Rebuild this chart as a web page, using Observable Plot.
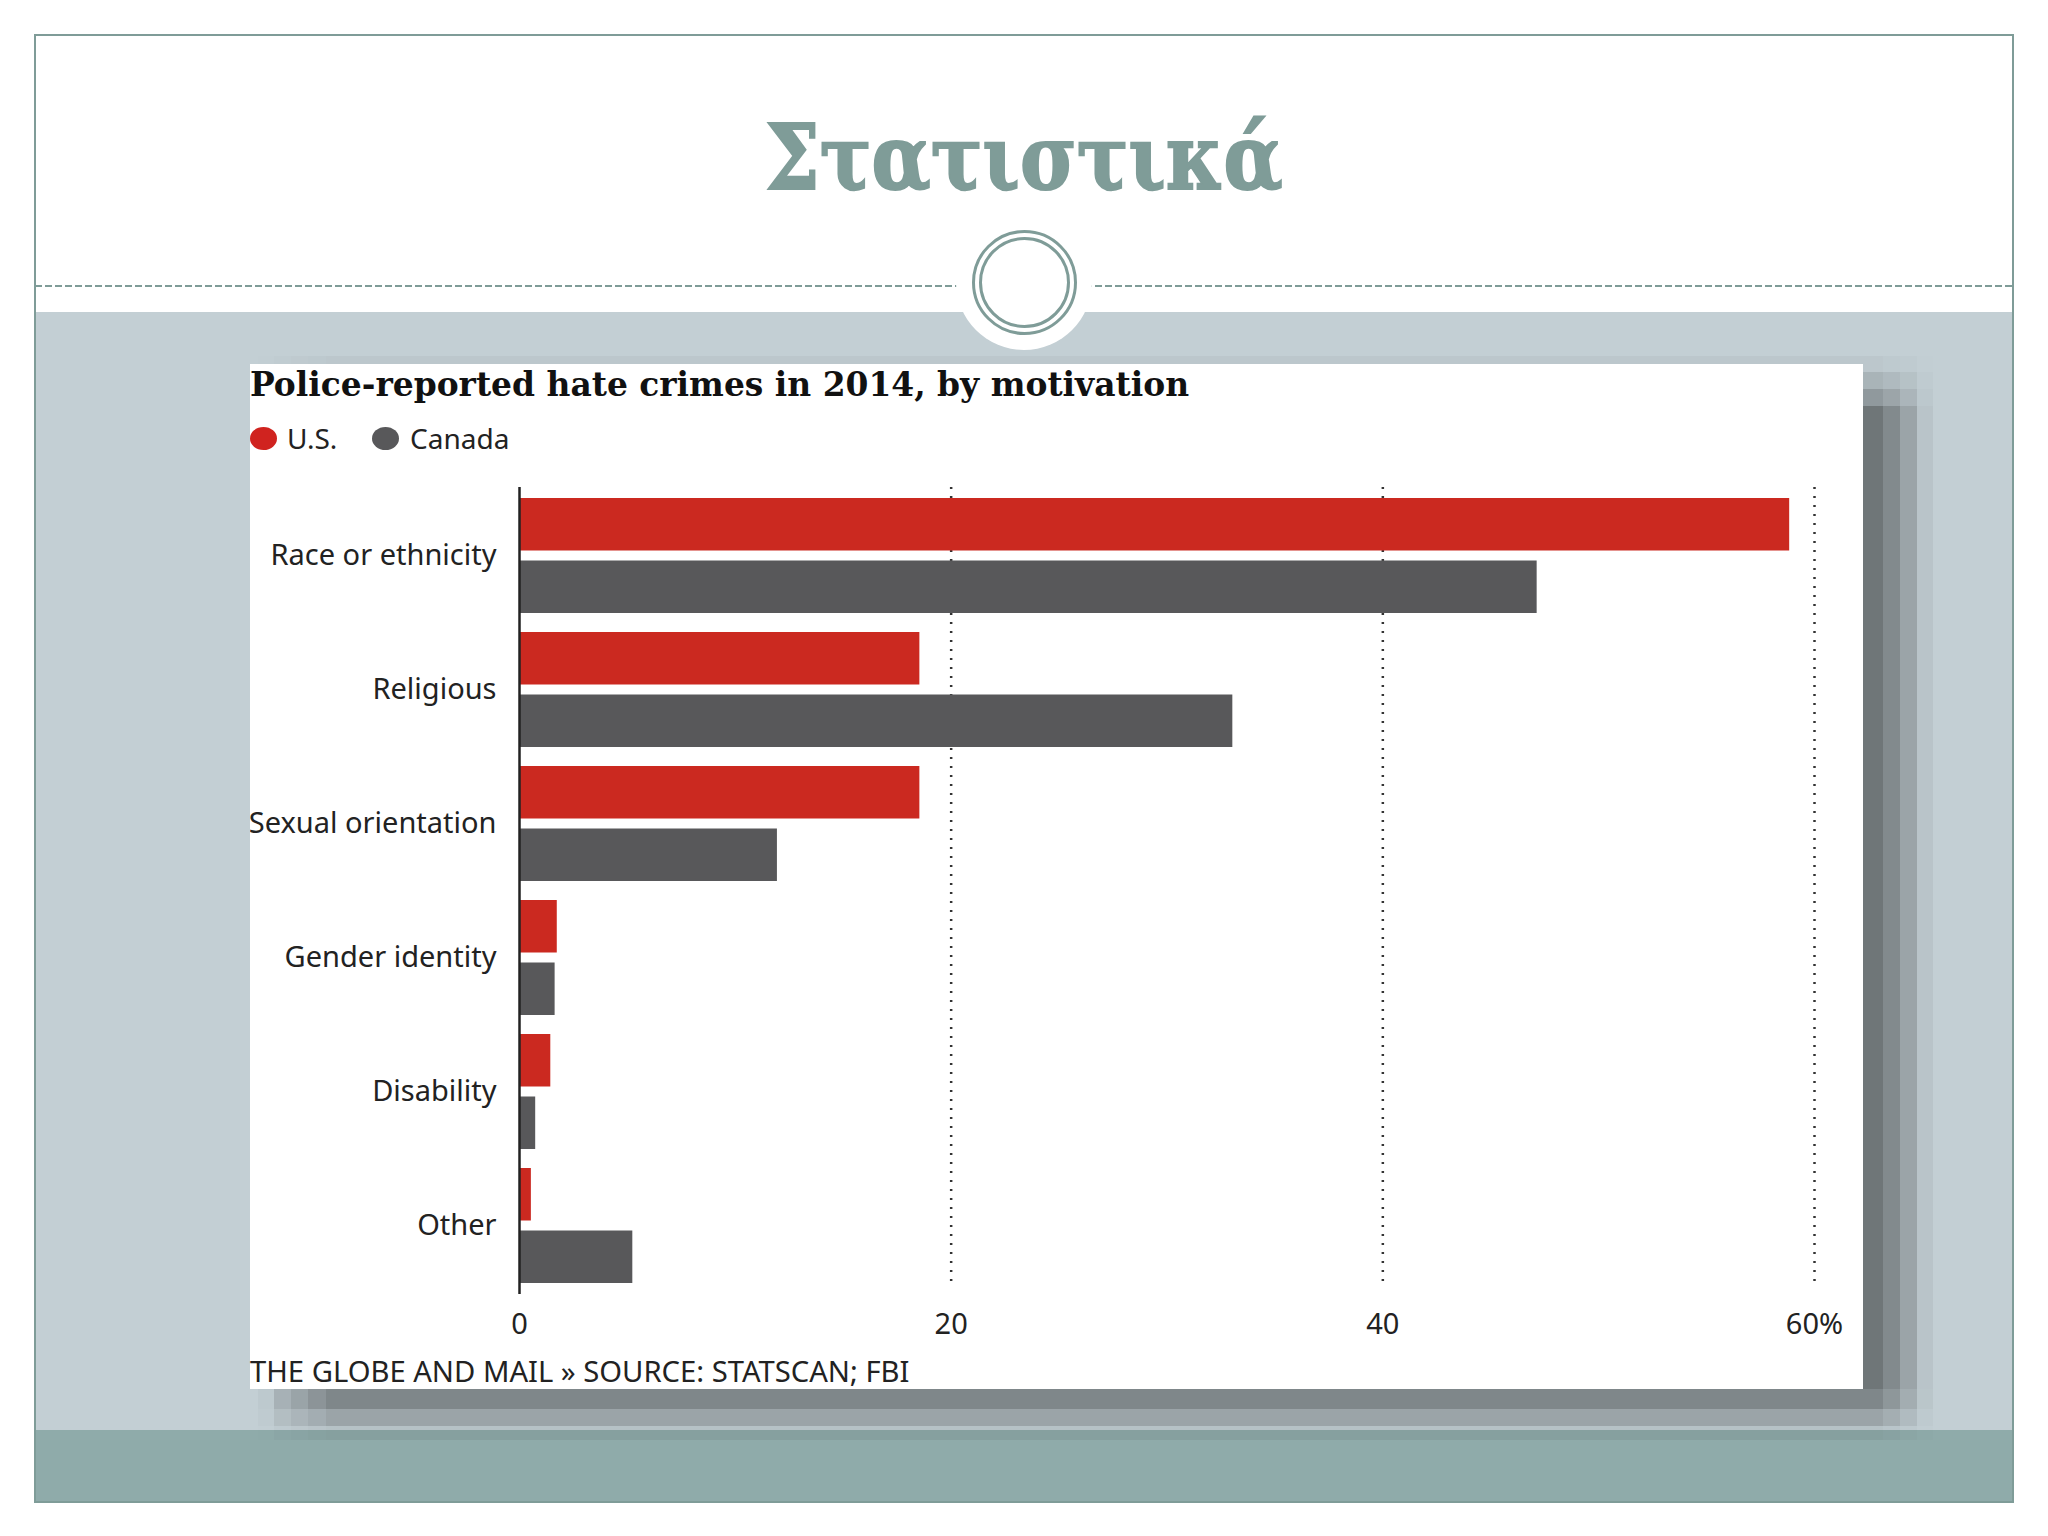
<!DOCTYPE html>
<html lang="en">
<head>
<meta charset="utf-8">
<title>Στατιστικά</title>
<script src="https://cdn.jsdelivr.net/npm/d3@7"></script>
<script src="https://cdn.jsdelivr.net/npm/@observablehq/plot@0.6"></script>
<style>
  html, body { margin: 0; padding: 0; background: #fff; width: 2048px; height: 1536px; overflow: hidden; }
  .abs { position: absolute; box-sizing: border-box; }
  #frame { left: 34px; top: 34px; width: 1980px; height: 1469px; border: 2px solid #7f9c98; }
  #panel { left: 35px; top: 312px; width: 1978px; height: 1118px; background: #c3cfd4; }
  #footer { left: 35px; top: 1430px; width: 1978px; height: 72px; background: #8fabaa; }
  #dash { left: 35px; top: 285px; width: 1978px; height: 2px;
    background: repeating-linear-gradient(90deg, #7f9c98 0 7px, transparent 7px 10px); }
  .disc { border-radius: 50%; }
  #title { left: 0; top: 98px; width: 2048px; text-align: center; font: bold 89px "DejaVu Serif", serif; color: #7f9c98;
    line-height: 120px; transform: scaleX(.865); -webkit-text-stroke: 2px #7f9c98; }
  #heading { left: 250px; top: 365px; font: bold 32.9px "DejaVu Serif", serif; color: #111; line-height: 40px; white-space: nowrap; }
  .legend { top: 419px; font: 28px "Noto Sans", sans-serif; color: #222; line-height: 38px; white-space: nowrap; }
  .dot { width: 27px; height: 23px; border-radius: 50%; top: 427px; }
  #source { left: 250px; top: 1352px; font: 29.2px "Noto Sans", sans-serif; color: #222; line-height: 38px; white-space: nowrap; }
  #chart { left: 250px; top: 364px; }
  #chart svg { display: block; }
  #shadow { left: 258px; top: 356px; width: 1675px; height: 1084px; background: rgba(0,0,0,.43);
    --mx: linear-gradient(90deg,
      rgba(0,0,0,.08) 0 16px, rgba(0,0,0,.4) 16px 33px, rgba(0,0,0,.6) 33px 50px, rgba(0,0,0,.8) 50px 68px,
      #000 68px 1625px, rgba(0,0,0,.77) 1625px 1642px, rgba(0,0,0,.47) 1642px 1659px, rgba(0,0,0,.12) 1659px 1675px);
    --my: linear-gradient(180deg,
      rgba(0,0,0,.08) 0 16px, rgba(0,0,0,.3) 16px 33px, rgba(0,0,0,.6) 33px 50px,
      #000 50px 1033px, rgba(0,0,0,.81) 1033px 1053px, rgba(0,0,0,.47) 1053px 1070px, rgba(0,0,0,.14) 1070px 1084px);
    -webkit-mask-image: var(--mx), var(--my); mask-image: var(--mx), var(--my);
    -webkit-mask-composite: source-in; mask-composite: intersect; }
</style>
</head>
<body>
<div class="abs" id="panel"></div>
<div class="abs" id="footer"></div>
<div class="abs" id="frame"></div>
<div class="abs" id="dash"></div>
<div class="abs disc" style="left:956px;top:214px;width:136px;height:136px;background:#fff"></div>
<div class="abs disc" style="left:972px;top:230px;width:105px;height:105px;border:3px solid #7f9c98"></div>
<div class="abs disc" style="left:979px;top:237px;width:91px;height:91px;border:3px solid #7f9c98"></div>
<div class="abs" id="title">Στατιστικά</div>

<div class="abs" id="shadow"></div>

<div class="abs" id="chart"></div>
<div class="abs" id="heading">Police-reported hate crimes in 2014, by motivation</div>
<div class="abs dot" style="left:250px;background:#d0231f"></div>
<div class="abs legend" style="left:287px">U.S.</div>
<div class="abs dot" style="left:372px;background:#58585a"></div>
<div class="abs legend" style="left:410px">Canada</div>
<div class="abs" id="source">THE GLOBE AND MAIL » SOURCE: STATSCAN; FBI</div>

<script>
const categories = ["Race or ethnicity", "Religious", "Sexual orientation", "Gender identity", "Disability", "Other"];
const usValues = [58.85, 18.55, 18.55, 1.75, 1.45, 0.55];
const canadaValues = [47.15, 33.05, 11.95, 1.65, 0.75, 5.25];
const xTicks = [0, 20, 40, 60];
const gridTicks = [20, 40, 60];

const usRows = categories.map((category, i) => ({category, value: usValues[i]}));
const canadaRows = categories.map((category, i) => ({category, value: canadaValues[i]}));

const chart = Plot.plot({
  width: 1613,
  height: 1025,
  marginLeft: 269,
  marginRight: 49,
  marginTop: 123,
  marginBottom: 95,
  style: {background: "#fff", fontFamily: "'Noto Sans', sans-serif", color: "#222"},
  x: {domain: [0, 60], label: null},
  y: {domain: categories, label: null, paddingInner: 0.146, paddingOuter: 0.084},
  marks: [
    Plot.ruleX(gridTicks, {stroke: "#333", strokeWidth: 2.5, strokeDasharray: "2 7", insetBottom: 8}),
    Plot.barX(usRows, {x: "value", y: "category", fill: "#cb2920", insetBottom: 61.5}),
    Plot.barX(canadaRows, {x: "value", y: "category", fill: "#58585a", insetTop: 62.5, insetBottom: -1}),
    Plot.ruleX([0], {stroke: "#222", strokeWidth: 2.5}),
    Plot.axisY({anchor: "left", tickSize: 0, tickPadding: 23, fontSize: 29, label: null, fill: "#222"}),
    Plot.axisX({
      anchor: "bottom", ticks: xTicks, tickSize: 0, tickPadding: 19, fontSize: 29, label: null, fill: "#222",
      tickFormat: d => d === 60 ? "60%" : String(d)
    })
  ]
});
document.getElementById("chart").appendChild(chart);
</script>
</body>
</html>
